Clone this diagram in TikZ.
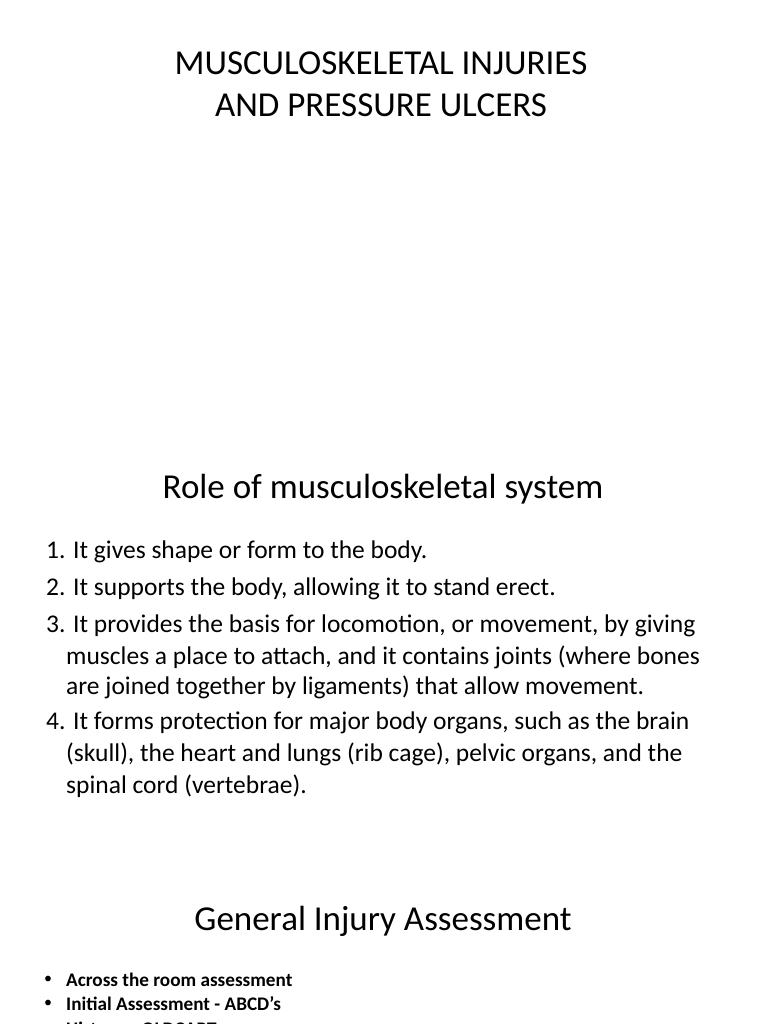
\documentclass[tikz,border=0pt]{standalone}
\usepackage{fontspec}
\setmainfont{Carlito}
\begin{document}
\begin{tikzpicture}[x=1pt,y=-1pt,
  txt/.style={anchor=west,inner sep=0pt,font=\fontsize{25.5}{30}\selectfont},
  bul/.style={anchor=west,inner sep=0pt,font=\bfseries\fontsize{19.2}{22}\selectfont},
  dot/.style={inner sep=0pt,font=\fontsize{16}{18}\selectfont},
  head/.style={inner sep=0pt,font=\fontsize{35}{40}\selectfont}]
\useasboundingbox (0,0) rectangle (768,1024);
\clip (0,0) rectangle (768,1024);
\node[inner sep=0pt,font=\fontsize{35}{42}\selectfont,align=center] (title) at (381,84) {MUSCULOSKELETAL INJURIES\\AND PRESSURE ULCERS};
\node[head] (role) at (383,489) {Role of musculoskeletal system};
\node[txt] (l1) at (46,552) {1. It gives shape or form to the body.};
\node[txt] (l2) at (46,589) {2. It supports the body, allowing it to stand erect.};
\node[txt] (l3) at (46,626) {3. It provides the basis for locomotion, or movement, by giving};
\node[txt] (l3b) at (66,657) {muscles a place to attach, and it contains joints (where bones};
\node[txt] (l3c) at (66,687) {are joined together by ligaments) that allow movement.};
\node[txt] (l4) at (46,723) {4. It forms protection for major body organs, such as the brain};
\node[txt] (l4b) at (66,754) {(skull), the heart and lungs (rib cage), pelvic organs, and the};
\node[txt] (l4c) at (66,786) {spinal cord (vertebrae).};
\node[head] (gen) at (383,921) {General Injury Assessment};
\foreach \y/\t [count=\i] in {980/Across the room assessment,1004/Initial Assessment - ABCD’s,1030/History – OLDCART}{
  \node[bul] (b\i) at (66,\y) {\t};
  \node[dot] (d\i) at (48,\y) {•};
}
\end{tikzpicture}
\end{document}
